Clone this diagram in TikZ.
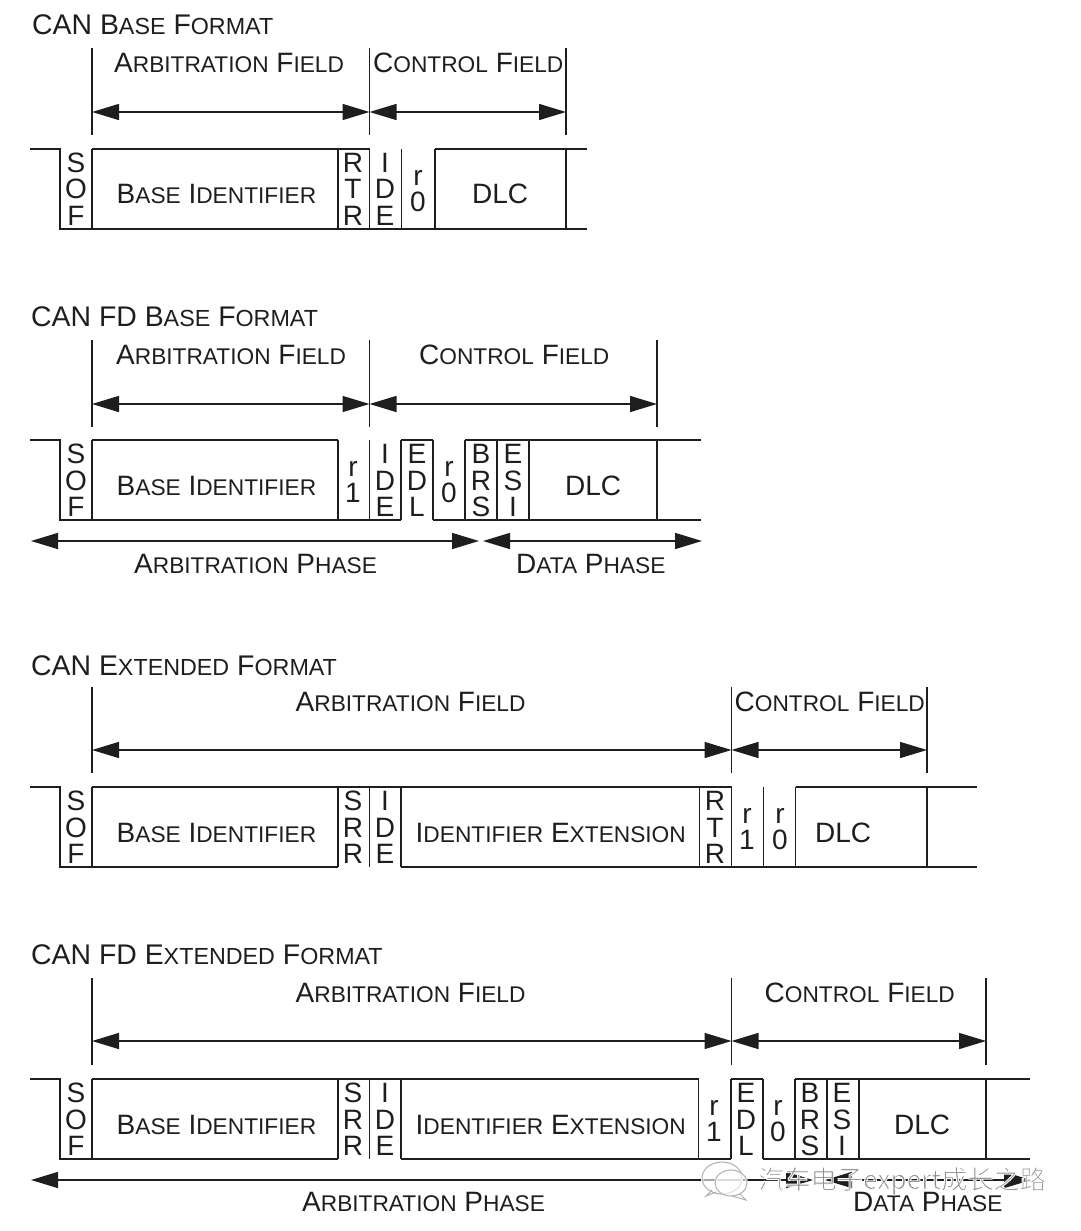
\documentclass[tikz,border=0pt]{standalone}
\usepackage{fontspec}
\setmainfont{Liberation Sans}
\newfontfamily\cjkwm{Noto Sans CJK SC}
\usetikzlibrary{arrows.meta}
\definecolor{ink}{HTML}{1E1E1E}
\definecolor{wm}{HTML}{8C8C8C}
\newcommand{\Bg}{\fontsize{28}{30}\selectfont}
\newcommand{\Sm}{\fontsize{22.7}{30}\selectfont}
\newcommand{\SC}[2]{{\Bg #1\Sm #2}}
\newcommand{\Tg}{\fontsize{28.4}{30}\selectfont}
\newcommand{\Ts}{\fontsize{23.3}{30}\selectfont}
\newcommand{\TC}[2]{{\Tg #1\Ts #2}}
\newcommand{\halo}[1]{\special{pdf:code q 1 1 1 RG 0.9 w 2 Tr}#1\special{pdf:code 0 Tr Q}}
\tikzset{
  wire/.style={line width=1.7pt,draw=ink},
  tick/.style={line width=1.4pt,draw=ink},
  span/.style={line width=1.5pt,draw=ink,{Triangle[length=27pt,width=16pt]}-{Triangle[length=27pt,width=16pt]}},
  lab/.style={inner sep=0pt,anchor=base west,text=ink,font=\Bg},
  ttl/.style={inner sep=0pt,anchor=base west,text=ink,font=\Tg},
  stack/.style={inner sep=0pt,anchor=center,align=center,text=ink,font=\fontsize{28}{26.5}\selectfont},
}
\begin{document}
\begin{tikzpicture}[x=1pt,y=-1pt]
\useasboundingbox (0,0) rectangle (1080,1231);
% ---------- Row 1
\node[ttl] (t1) at (32,35) {CAN \TC{B}{ASE} \TC{F}{ORMAT}};
\node[lab] (af1) at (114,73) {\SC{A}{RBITRATION} \SC{F}{IELD}};
\node[lab] (cf1) at (373,73) {\SC{C}{ONTROL} \SC{F}{IELD}};
\coordinate (a1a) at (92,112); \coordinate (a1b) at (369.5,112); \coordinate (a1c) at (566,112);
\draw[tick] (92,48) -- (92,135);
\draw[tick] (369.5,48) -- (369.5,135);
\draw[tick] (566,48) -- (566,135);
\draw[span] (a1a) -- (a1b);
\draw[span] (a1b) -- (a1c);
\draw[wire] (30,149) -- (60,149) -- (60,229) -- (587,229);
\draw[wire] (92,149) -- (369.5,149);
\draw[wire] (435,149) -- (587,149);
\foreach \x in {92,338,369.5,401.5,435,566} \draw[wire] (\x,149) -- (\x,229);
\node[stack] (s1) at (76,189) {S\\O\\F};
\node[lab] (b1) at (116.5,203) {\SC{B}{ASE} \SC{I}{DENTIFIER}};
\node[stack] (s2) at (353,189) {R\\T\\R};
\node[stack] (s3) at (385,189) {I\\D\\E};
\node[stack] (s4) at (418,191) {r\\0};
\node[lab] (d1) at (472,203) {DLC};
% ---------- Row 2
\node[ttl] (t2) at (31,326) {CAN FD \TC{B}{ASE} \TC{F}{ORMAT}};
\node[lab] (af2) at (116,364.5) {\SC{A}{RBITRATION} \SC{F}{IELD}};
\node[lab] (cf2) at (419,364.5) {\SC{C}{ONTROL} \SC{F}{IELD}};
\coordinate (a2a) at (92,404); \coordinate (a2b) at (369.5,404); \coordinate (a2c) at (657,404);
\draw[tick] (92,340) -- (92,427);
\draw[tick] (369.5,340) -- (369.5,427);
\draw[tick] (657,340) -- (657,427);
\draw[span] (a2a) -- (a2b);
\draw[span] (a2b) -- (a2c);
\draw[wire] (30,440) -- (60,440) -- (60,520) -- (401,520);
\draw[wire] (433,520) -- (701,520);
\draw[wire] (92,440) -- (338,440);
\draw[wire] (401,440) -- (433,440);
\draw[wire] (465,440) -- (701,440);
\foreach \x in {92,338,369.5,401,433,465,497,529,657} \draw[wire] (\x,440) -- (\x,520);
\node[stack] (s5) at (76,480.5) {S\\O\\F};
\node[lab] (b2) at (116.5,495) {\SC{B}{ASE} \SC{I}{DENTIFIER}};
\node[stack] (s6) at (353,482) {r\\1};
\node[stack] (s7) at (385,480.5) {I\\D\\E};
\node[stack] (s8) at (417,480.5) {E\\D\\L};
\node[stack] (s9) at (449,482) {r\\0};
\node[stack] (s10) at (481,480.5) {B\\R\\S};
\node[stack] (s11) at (513,480.5) {E\\S\\I};
\node[lab] (d2) at (565,495) {DLC};
\coordinate (p2a) at (31,541); \coordinate (p2b) at (479,541); \coordinate (p2c) at (483,541); \coordinate (p2d) at (702,541);
\draw[span] (p2a) -- (p2b);
\draw[span] (p2c) -- (p2d);
\node[lab] (ap2) at (134,573.5) {\SC{A}{RBITRATION} \SC{P}{HASE}};
\node[lab] (dp2) at (516,573.5) {\SC{D}{ATA} \SC{P}{HASE}};
% ---------- Row 3
\node[ttl] (t3) at (31,675.5) {CAN \TC{E}{XTENDED} \TC{F}{ORMAT}};
\node[lab] (af3) at (295.5,711.5) {\SC{A}{RBITRATION} \SC{F}{IELD}};
\node[lab] (cf3) at (734.5,711.5) {\SC{C}{ONTROL} \SC{F}{IELD}};
\coordinate (a3a) at (92,750); \coordinate (a3b) at (731.5,750); \coordinate (a3c) at (927,750);
\draw[tick] (92,687) -- (92,773);
\draw[tick] (731.5,687) -- (731.5,773);
\draw[tick] (927,687) -- (927,773);
\draw[span] (a3a) -- (a3b);
\draw[span] (a3b) -- (a3c);
\draw[wire] (30,787) -- (60,787) -- (60,867) -- (338,867);
\draw[wire] (401,867) -- (977,867);
\draw[wire] (92,787) -- (731.5,787);
\draw[wire] (795.5,787) -- (977,787);
\foreach \x in {92,338,369.5,401,699.5,731.5,763.5,795.5,927} \draw[wire] (\x,787) -- (\x,867);
\node[stack] (s12) at (76,827.5) {S\\O\\F};
\node[lab] (b3) at (116.5,842) {\SC{B}{ASE} \SC{I}{DENTIFIER}};
\node[stack] (s13) at (353,827.5) {S\\R\\R};
\node[stack] (s14) at (385,827.5) {I\\D\\E};
\node[lab] (ie3) at (415.5,842) {\SC{I}{DENTIFIER} \SC{E}{XTENSION}};
\node[stack] (s15) at (715,827.5) {R\\T\\R};
\node[stack] (s16) at (747,829) {r\\1};
\node[stack] (s17) at (780,829) {r\\0};
\node[lab] (d3) at (815,842) {DLC};
% ---------- Row 4
\node[ttl] (t4) at (31,964.5) {CAN FD \TC{E}{XTENDED} \TC{F}{ORMAT}};
\node[lab] (af4) at (295.5,1002.5) {\SC{A}{RBITRATION} \SC{F}{IELD}};
\node[lab] (cf4) at (764.5,1002.5) {\SC{C}{ONTROL} \SC{F}{IELD}};
\coordinate (a4a) at (92,1041); \coordinate (a4b) at (731.5,1041); \coordinate (a4c) at (986,1041);
\draw[tick] (92,978) -- (92,1065);
\draw[tick] (731.5,978) -- (731.5,1065);
\draw[tick] (986,978) -- (986,1065);
\draw[span] (a4a) -- (a4b);
\draw[span] (a4b) -- (a4c);
\draw[wire] (30,1079) -- (60,1079) -- (60,1159) -- (338,1159);
\draw[wire] (401,1159) -- (731,1159);
\draw[wire] (763,1159) -- (1030,1159);
\draw[wire] (92,1079) -- (698.5,1079);
\draw[wire] (731,1079) -- (763,1079);
\draw[wire] (795,1079) -- (1030,1079);
\foreach \x in {92,338,369.5,401,698.5,731,763,795,827,859,986} \draw[wire] (\x,1079) -- (\x,1159);
\node[stack] (s18) at (76,1119.5) {S\\O\\F};
\node[lab] (b4) at (116.5,1134) {\SC{B}{ASE} \SC{I}{DENTIFIER}};
\node[stack] (s19) at (353,1119.5) {S\\R\\R};
\node[stack] (s20) at (385,1119.5) {I\\D\\E};
\node[lab] (ie4) at (415.5,1134) {\SC{I}{DENTIFIER} \SC{E}{XTENSION}};
\node[stack] (s21) at (714,1121) {r\\1};
\node[stack] (s22) at (746,1119.5) {E\\D\\L};
\node[stack] (s23) at (778,1121) {r\\0};
\node[stack] (s24) at (810,1119.5) {B\\R\\S};
\node[stack] (s25) at (842,1119.5) {E\\S\\I};
\node[lab] (d4) at (894,1134) {DLC};
\coordinate (p4a) at (31,1180); \coordinate (p4b) at (813,1180); \coordinate (p4c) at (825,1180); \coordinate (p4d) at (1031,1180);
\draw[span] (p4a) -- (p4b);
\draw[span] (p4c) -- (p4d);
\node[lab] (ap4) at (302,1211.5) {\SC{A}{RBITRATION} \SC{P}{HASE}};
\node[lab] (dp4) at (853,1211.5) {\SC{D}{ATA} \SC{P}{HASE}};
% ---------- Watermark
\draw[white,line width=2.2pt] (722,1178) ellipse [x radius=20,y radius=16];
\draw[white,line width=2.2pt] (731,1183) ellipse [x radius=16,y radius=13];
\draw[wm!70,line width=1pt,fill=white,fill opacity=.6] (722,1178) ellipse [x radius=20,y radius=16];
\draw[wm!70,line width=1pt] (712,1190) -- (706,1196) -- (716,1192);
\draw[wm!70,line width=1pt,fill=white,fill opacity=.6] (731,1183) ellipse [x radius=16,y radius=13];
\draw[wm!70,line width=1pt] (740,1194) -- (746,1200) -- (732,1196);
\node[inner sep=0pt,anchor=base west,font=\cjkwm\fontsize{26.2}{30}\selectfont,text=wm] (w) at (758,1189) {\halo{汽车电子expert成长之路}};
\end{tikzpicture}
\end{document}
